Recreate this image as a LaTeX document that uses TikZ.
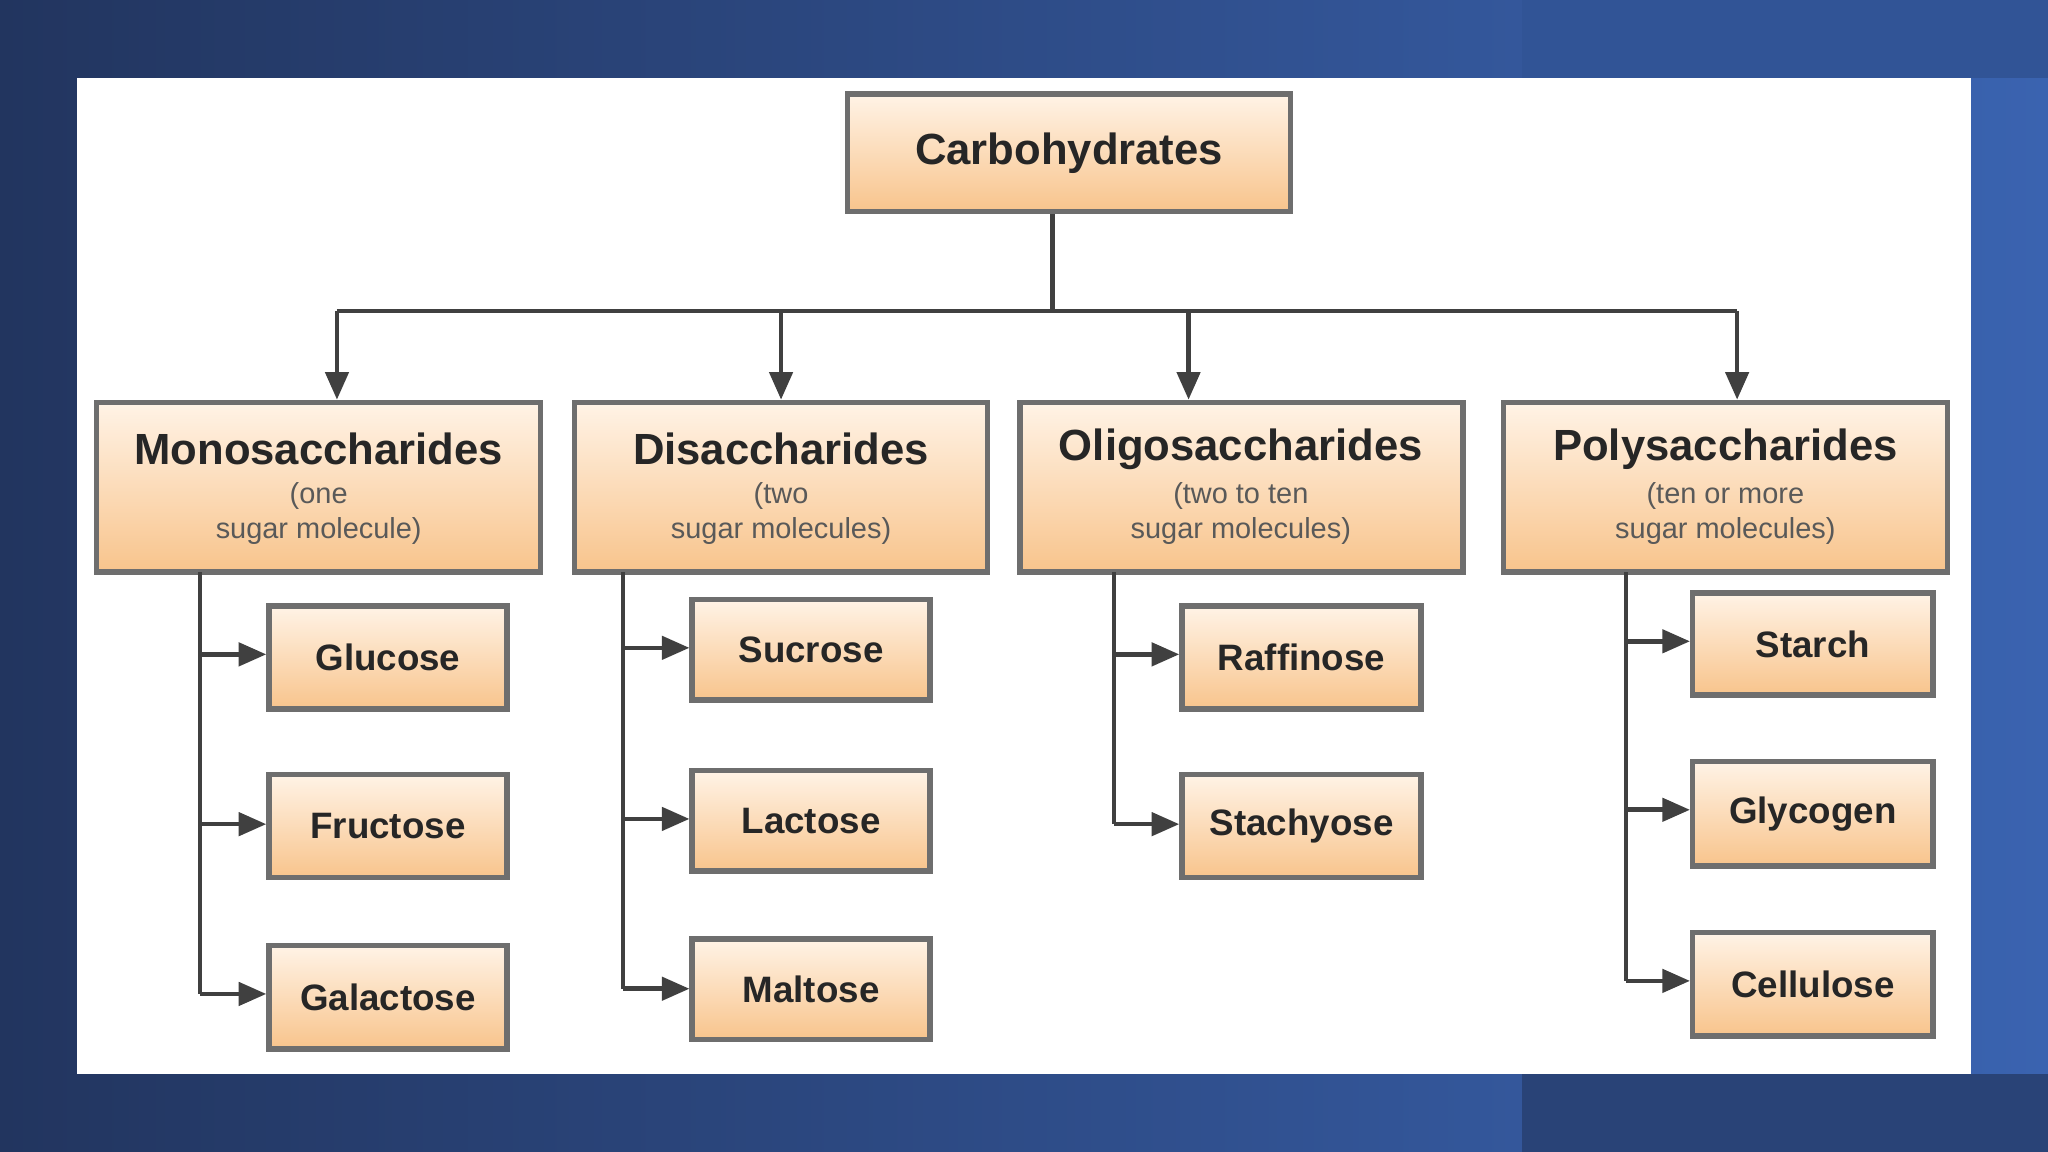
\documentclass[tikz,border=0pt]{standalone}
\usepackage{fontspec}
\setmainfont{Liberation Sans}
\usetikzlibrary{arrows.meta}
\definecolor{bgA}{HTML}{22355F}
\definecolor{bgB}{HTML}{3A63B0}
\definecolor{peachT}{HTML}{FFF3E6}
\definecolor{peachB}{HTML}{F8C48C}
\definecolor{edgeC}{HTML}{6E6E6E}
\tikzset{
  box/.style args={#1/#2}{draw=edgeC,line width=1.2pt,top color=peachT,bottom color=peachB,
     minimum width=#1*0.01cm,minimum height=#2*0.01cm,inner sep=0pt,align=center,
     font=\bfseries\fontsize{8}{9}\selectfont,text=black!85},
  link/.style={draw=black!75,line width=1pt},
  arr/.style={link,-{Triangle[length=6pt,width=5pt]}},
  sub/.style={font=\mdseries\fontsize{6.3}{7.5}\selectfont,text=black!65}
}
\begin{document}
\begin{tikzpicture}[x=0.01cm,y=-0.01cm]
\useasboundingbox (0,0) rectangle (1568,882);
\shade[left color=bgA,right color=bgB] (0,0) rectangle (1568,882);
\fill[bgB!85!black] (1165,0) rectangle (1568,60);
\fill[bgA!70!bgB] (1165,822) rectangle (1568,882);
\fill[white] (59,60) rectangle (1509,822);
% top
\node[box=339/90,font=\bfseries\fontsize{9.5}{11}\selectfont] (carb) at (818.5,117) {Carbohydrates};
% categories
\node[box=340/130] (mono) at (244,373) {};
\node[font=\bfseries\fontsize{9.5}{11}\selectfont,text=black!85] (monoT) at (244,344) {Monosaccharides};
\node[sub,align=center] (monoS) at (244,393) {(one\\sugar molecule)};
\node[box=316/130] (di) at (598,373) {};
\node[font=\bfseries\fontsize{9.5}{11}\selectfont,text=black!85] (diT) at (598,344) {Disaccharides};
\node[sub,align=center] (diS) at (598,393) {(two\\sugar molecules)};
\node[box=339/130] (oli) at (950.5,373) {};
\node[font=\bfseries\fontsize{9.5}{11}\selectfont,text=black!85] (oliT) at (950,344) {Oligosaccharides};
\node[sub,align=center] (oliS) at (950,393) {(two to ten\\sugar molecules)};
\node[box=340/130] (poly) at (1321,373) {};
\node[font=\bfseries\fontsize{9.5}{11}\selectfont,text=black!85] (polyT) at (1321,344) {Polysaccharides};
\node[sub,align=center] (polyS) at (1321,393) {(ten or more\\sugar molecules)};
% children
\node[box=182/79] (glu) at (297,503.5) {Glucose};
\node[box=182/79] (fru) at (297,632.5) {Fructose};
\node[box=182/79] (gal) at (297,763.5) {Galactose};
\node[box=182/77] (suc) at (621,497.5) {Sucrose};
\node[box=182/77] (lac) at (621,628.5) {Lactose};
\node[box=182/77] (mal) at (621,757.5) {Maltose};
\node[box=183/79] (raf) at (996.5,503.5) {Raffinose};
\node[box=183/79] (sta) at (996.5,632.5) {Stachyose};
\node[box=184/78] (str) at (1388,493) {Starch};
\node[box=184/80] (gly) at (1388,623) {Glycogen};
\node[box=184/79] (cel) at (1388,753.5) {Cellulose};
% connectors
\coordinate (j) at (806,238);
\draw[link] (carb.south -| j) -- (j);
\draw[link] (258,238) -- (1330,238);
\draw[arr] (258,238) -- (258,306);
\draw[arr] (598,238) -- (598,306);
\draw[arr] (910,238) -- (910,306);
\draw[arr] (1330,238) -- (1330,306);
\draw[link] (153,438) -- (153,761);
\draw[arr] (153,501) -- (glu.west |- 153,501);
\draw[arr] (153,631) -- (fru.west |- 153,631);
\draw[arr] (153,761) -- (gal.west |- 153,761);
\draw[link] (477,438) -- (477,757);
\draw[arr] (477,496) -- (suc.west |- 477,496);
\draw[arr] (477,627) -- (lac.west |- 477,627);
\draw[arr] (477,757) -- (mal.west |- 477,757);
\draw[link] (853,438) -- (853,631);
\draw[arr] (853,501) -- (raf.west |- 853,501);
\draw[arr] (853,631) -- (sta.west |- 853,631);
\draw[link] (1245,438) -- (1245,751);
\draw[arr] (1245,491) -- (str.west |- 1245,491);
\draw[arr] (1245,620) -- (gly.west |- 1245,620);
\draw[arr] (1245,751) -- (cel.west |- 1245,751);
\end{tikzpicture}
\end{document}
